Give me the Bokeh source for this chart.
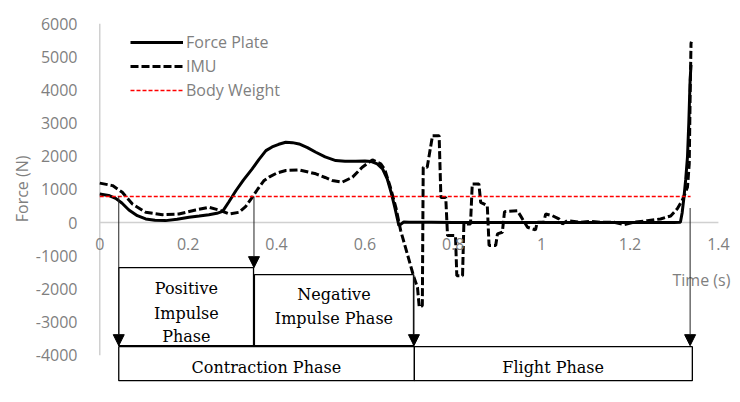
from bokeh.plotting import figure
from bokeh.models import (Range1d, FixedTicker, Legend, LegendItem, Title,
                          Arrow, NormalHead)
from bokeh.core.properties import value
from bokeh.embed import file_html
from bokeh.resources import INLINE

# Force plate ground reaction force (N) over time (s)
fp_time = [0.000, 0.020, 0.036, 0.050, 0.066, 0.085, 0.104, 0.125, 0.149, 0.175,
           0.202, 0.225, 0.247, 0.265, 0.278, 0.292, 0.308, 0.325, 0.345, 0.360,
           0.376, 0.390, 0.405, 0.421, 0.436, 0.451, 0.470, 0.489, 0.510, 0.534,
           0.555, 0.579, 0.600, 0.615, 0.628, 0.640, 0.651, 0.660, 0.668, 0.677,
           0.688, 0.700, 0.750, 0.800, 0.900, 1.000, 1.100, 1.200, 1.300, 1.314,
           1.318, 1.322, 1.326, 1.330, 1.333, 1.336, 1.338]
fp_force = [860, 820, 730, 590, 380, 210, 110, 70, 60, 100,
            160, 200, 240, 280, 340, 620, 960, 1280, 1620, 1900,
            2170, 2280, 2360, 2420, 2410, 2370, 2260, 2120, 1980, 1870,
            1850, 1850, 1860, 1840, 1770, 1620, 1300, 880, 440, -90,
            20, 10, 10, 0, 0, 0, 0, 0, 0, 10,
            300, 760, 1300, 1970, 3000, 4300, 4750]

# IMU-estimated force (N) over time (s)
imu_time = [0.000, 0.029, 0.051, 0.074, 0.104, 0.142, 0.179, 0.217, 0.247, 0.270,
            0.293, 0.315, 0.330, 0.345, 0.358, 0.372, 0.383, 0.400, 0.421, 0.451,
            0.489, 0.510, 0.526, 0.549, 0.572, 0.594, 0.617, 0.636, 0.645, 0.658,
            0.670, 0.681, 0.696, 0.711, 0.719, 0.723, 0.730, 0.732, 0.741, 0.753,
            0.768, 0.772, 0.783, 0.787, 0.805, 0.808, 0.821, 0.824, 0.839, 0.843,
            0.858, 0.862, 0.877, 0.881, 0.896, 0.900, 0.911, 0.916, 0.945, 0.952,
            0.968, 0.986, 0.990, 1.005, 1.009, 1.024, 1.039, 1.047, 1.058, 1.088,
            1.111, 1.133, 1.164, 1.186, 1.209, 1.239, 1.269, 1.292, 1.307, 1.318,
            1.330, 1.334, 1.336, 1.338, 1.339]
imu_force = [1190, 1115, 915, 560, 310, 240, 260, 380, 460, 380,
             260, 310, 480, 760, 1020, 1270, 1370, 1490, 1570, 1590,
             1470, 1360, 1270, 1220, 1370, 1670, 1890, 1770, 1600, 1050,
             460, -240, -945, -1650, -1950, -2550, -2500, 1670, 1670, 2620,
             2620, 760, 760, -390, -390, -1600, -1600, -40, -40, 1165,
             1165, 610, 510, -690, -690, -340, -290, 330, 360, 210,
             -140, -220, 10, 10, 260, 210, 110, -40, 60, 10,
             40, 10, 10, -60, 10, 60, 110, 200, 420, 663,
             1065, 1770, 3780, 5400, 5450]

# Body weight reference (N)
bw_time = [0.0, 1.337]
body_weight = 785

x_ticks = [0, 0.2, 0.4, 0.6, 0.8, 1.0, 1.2, 1.4]
x_tick_labels = ["0", "0.2", "0.4", "0.6", "0.8", "1", "1.2", "1.4"]
y_ticks = [-4000, -3000, -2000, -1000, 0, 1000, 2000, 3000, 4000, 5000, 6000]
y_tick_labels = ["-4000", "-3000", "-2000", "-1000", "0", "1000", "2000",
                 "3000", "4000", "5000", "6000"]

# Phase boundaries (s)
t_onset = 0.043
t_switch = 0.349
t_takeoff = 0.711
t_landing = 1.336
t_flight_end = 1.341

SANS = "Open Sans"
SERIF = "DejaVu Serif"
GREY = "#7f7f7f"

p = figure(width=740, height=402, output_backend="svg", toolbar_location=None,
           x_range=Range1d(-0.03, 1.45), y_range=Range1d(-5300, 6000), title=None,
           min_border_left=86, min_border_right=0, min_border_top=23,
           min_border_bottom=4)
p.outline_line_color = None
p.grid.visible = False
p.background_fill_color = "white"

xa = p.xaxis[0]
xa.fixed_location = 0
xa.ticker = FixedTicker(ticks=x_ticks)
xa.major_label_overrides = dict(zip(x_ticks, x_tick_labels))
xa.major_label_standoff = 15

ya = p.yaxis[0]
ya.ticker = FixedTicker(ticks=y_ticks)
ya.major_label_overrides = dict(zip(y_ticks, y_tick_labels))
ya.major_label_standoff = 9

for ax in (xa, ya):
    ax.axis_line_color = None
    ax.major_tick_line_color = None
    ax.minor_tick_line_color = None
    ax.major_tick_out = 0
    ax.major_tick_in = 0
    ax.minor_tick_out = 0
    ax.major_label_text_font = SANS
    ax.major_label_text_font_size = "16px"
    ax.major_label_text_color = GREY

# y-axis title, placed in the left panel beside the tick labels
p.add_layout(Title(text="Force (N)", align="right", offset=132,
                   text_font=SANS, text_font_size="16px", text_color=GREY,
                   text_font_style="normal", standoff=0), "left")

# axis lines spanning only the ticked extent
p.segment(x0=[x_ticks[0], x_ticks[0]], y0=[y_ticks[0], 0],
          x1=[x_ticks[0], x_ticks[-1]], y1=[y_ticks[-1], 0],
          line_color="#d0d0d0", line_width=1.5)

r_fp = p.line(fp_time, fp_force, line_color="black", line_width=3)
r_imu = p.line(imu_time, imu_force, line_color="black", line_width=3,
               line_dash="8 3")
r_bw = p.line(bw_time, [body_weight] * len(bw_time), line_color="#ff0000",
              line_width=1.5, line_dash="4 2")

legend = Legend(items=[LegendItem(label="Force Plate", renderers=[r_fp]),
                       LegendItem(label="IMU", renderers=[r_imu]),
                       LegendItem(label="Body Weight", renderers=[r_bw])],
                location=(44, 297), glyph_width=53, glyph_height=22,
                label_height=22, label_standoff=3, spacing=2, padding=0,
                margin=0, border_line_color=None, background_fill_alpha=0,
                label_text_font=SANS, label_text_font_size="16px",
                label_text_color=GREY)
p.add_layout(legend)

# x-axis title
p.text(x=[1.3616], y=[-1718], text=["Time (s)"], text_font=value(SANS),
       text_font_size="16px", text_color=GREY, text_align="center",
       text_baseline="middle")

# phase boxes
p.quad(left=[t_onset, t_switch + 0.001, t_onset, t_takeoff + 0.001],
       right=[t_switch - 0.001, t_takeoff - 0.001, t_takeoff + 0.001, t_flight_end],
       top=[-1357, -1568, -3738, -3738],
       bottom=[-3708, -3708, -4764, -4764],
       fill_color="white", line_color="black", line_width=1.3)

p.text(x=[(t_onset + t_switch) / 2] * 3 + [(t_switch + t_takeoff) / 2] * 2
       + [(t_onset + t_takeoff) / 2, (t_takeoff + t_flight_end) / 2],
       y=[-1990, -2735, -3437, -2180, -2903, -4380, -4380],
       text=["Positive", "Impulse", "Phase", "Negative", "Impulse Phase",
             "Contraction Phase", "Flight Phase"],
       text_font=value(SERIF), text_font_size="16px", text_color="black",
       text_align="center", text_baseline="middle")

# phase arrows
for t, y0, y1 in [(t_onset, 790, -3708), (t_switch, 790, -1357),
                  (t_takeoff, -1568, -3708), (t_landing, 440, -3708)]:
    p.add_layout(Arrow(end=NormalHead(size=11, fill_color="black",
                                      line_color="black"),
                       x_start=t, y_start=y0, x_end=t, y_end=y1,
                       line_color="#222222", line_width=1))

open("out.html", "w").write(file_html(p, INLINE))
